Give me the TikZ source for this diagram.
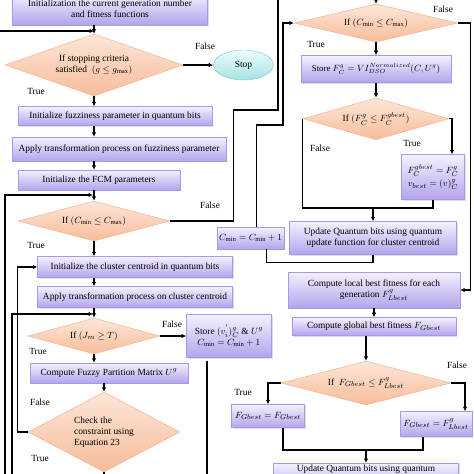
\documentclass[tikz,border=0pt]{standalone}
\usepackage{amsmath,amssymb}
\usepackage{fontspec}
\setmainfont{Liberation Serif}
\usepackage{tikz}
\usetikzlibrary{arrows.meta,positioning,shapes.geometric,shadows}
\definecolor{lav}{HTML}{F4F1FF}
\definecolor{lavdark}{HTML}{B4A3EC}
\definecolor{lavline}{HTML}{A998E8}
\definecolor{peachlt}{HTML}{FDE6D8}
\definecolor{peach}{HTML}{F7BC9A}
\definecolor{peachline}{HTML}{F0AE88}
\definecolor{aqualt}{HTML}{EEFCFC}
\definecolor{aqua}{HTML}{A6E2E2}
\definecolor{aqualine}{HTML}{78CACA}

\begin{document}
\begin{tikzpicture}[x=1pt,y=1pt,
  font=\fontsize{9.4}{11}\selectfont,
  proc/.style={draw=lavline,top color=lav,bottom color=lavdark,align=center,inner sep=2pt,
    drop shadow={shadow xshift=1.2pt,shadow yshift=-1.2pt,opacity=.25}},
  dec/.style={diamond,draw=peachline,top color=peachlt,bottom color=peach,align=center,inner sep=0pt,aspect=3},
  term/.style={ellipse,draw=aqualine,top color=aqualt,bottom color=aqua},
  ln/.style={line width=1.3pt},
  arr/.style={ln,-{Latex[length=4.5pt,width=4.5pt]}},
  lbl/.style={inner sep=0pt}
]
\useasboundingbox (0,0) rectangle (474,-474);
\clip (0,0) rectangle (474,-474);

% left column
\node[proc,minimum width=195,minimum height=32] (init) at (110,-9) {Initialization the current generation number\\and fitness functions};
\node[dec,minimum width=178,minimum height=62,aspect=2.87] (stop1) at (94,-65) {If stopping criteria\\satisfied\ \ $(g\le g_{\max})$};
\node[term,minimum width=60,minimum height=30,right=30pt of stop1] (stop) {Stop};
\node[proc,minimum width=194,minimum height=19] (fuzz) at (115,-116) {Initialize fuzziness parameter in quantum bits};
\node[proc,minimum width=214,minimum height=24] (trans) at (119,-149) {Apply transformation process on fuzziness parameter};
\node[proc,minimum width=162,minimum height=20] (fcm) at (99,-180) {Initialize the FCM parameters};
\node[dec,minimum width=152,minimum height=40,aspect=3.8] (cmin1) at (94,-221) {If $(C_{\min}\le C_{\max})$};
\node[proc,minimum width=195,minimum height=21] (cent) at (135,-267) {Initialize the cluster centroid in quantum bits};
\node[proc,minimum width=195,minimum height=21] (transc) at (135,-297) {Apply transformation process on cluster centroid};
\node[dec,minimum width=132,minimum height=36,aspect=3.67] (jm) at (94,-336) {If $(J_m\ge T)$};
\node[proc,minimum width=85,minimum height=43,right=26pt of jm] (storev) {Store $(v_i^{'})_C^g$ \& $U^g$\\$C_{\min}=C_{\min}+1$};
\node[proc,minimum width=158,minimum height=20] (fuzzy) at (109,-373) {Compute Fuzzy Partition Matrix $U^g$};
\node[dec,minimum width=152,minimum height=80,aspect=1.9,align=left] (check) at (104,-432) {Check the\\constraint using\\Equation 23};

% right column
\node[dec,minimum width=164,minimum height=38,aspect=4.3] (cmin2) at (376,-23) {If $(C_{\min}\le C_{\max})$};
\node[proc,minimum width=150,minimum height=27,below=13pt of cmin2,font=\fontsize{8.8}{10}\selectfont] (storef) {Store $F_C^g=VI_{DSO}^{Normalized}(C,U^g)$};
\node[dec,minimum width=146,minimum height=42,aspect=3.5,below=15pt of storef] (fc) {If $(F_C^g\le F_C^{gbest})$};
\node[proc,minimum width=63,minimum height=45] (fcbest) at (433,-177) {$F_C^{gbest}=F_C^g$\\[2pt]$v_{best}=(v)_C^g$};
\node[proc,minimum width=167,minimum height=33] (upd1) at (373,-238) {Update Quantum bits using quantum\\update function for cluster centroid};
\node[proc,minimum width=67,minimum height=22,left=5pt of upd1] (cminc) {$C_{\min}=C_{\min}+1$};
\node[proc,minimum width=172,minimum height=36] (local) at (374,-290) {Compute local best fitness for each\\generation $F_{Lbest}^g$};
\node[proc,minimum width=164,minimum height=18,below=9pt of local] (global) {Compute global best fitness $F_{Gbest}$};
\node[dec,minimum width=170,minimum height=44,aspect=3.86] (r3) at (366,-383) {If\ \ $F_{Gbest}\le F_{Lbest}^g$};
\node[proc,minimum width=73,minimum height=23] (tbox) at (268,-416) {$F_{Gbest}=F_{Gbest}$};
\node[proc,minimum width=72,minimum height=25] (fbox) at (436,-424) {$F_{Gbest}=F_{Lbest}^g$};
\node[proc,minimum width=185,anchor=north,text depth=18pt] (upd2) at (366,-463) {Update Quantum bits using quantum};

% branch labels
\node[lbl] (f1) at (205,-46) {False};
\node[lbl] (t1) at (36,-91) {True};
\node[lbl] (f2) at (210,-205) {False};
\node[lbl] (t2) at (36,-245) {True};
\node[lbl] (f3) at (172,-324) {False};
\node[lbl] (t3) at (38,-351) {True};
\node[lbl] (f4) at (40,-402) {False};
\node[lbl] (t4) at (40,-458) {True};
\node[lbl] (f5) at (443,-9) {False};
\node[lbl] (t5) at (316,-44) {True};
\node[lbl] (f6) at (320,-148) {False};
\node[lbl] (t6) at (412,-143) {True};
\node[lbl] (t7) at (243,-392) {True};
\node[lbl] (f7) at (457,-365) {False};

% loose ends off the page
\coordinate (j0) at (94,-31);
\coordinate (j1) at (93,-195);
\coordinate (j3) at (93,-314);
\coordinate (back0) at (-6,-490);
\coordinate (back1) at (5,-490);
\coordinate (back3) at (12,-490);
\coordinate (out1) at (104,-490);
\coordinate (out2) at (207,-490);
\coordinate (j4) at (373,-208);
\coordinate (j5) at (366,-450);

% left connectors
\draw[arr] (init.south -| j0) -- (stop1.north);
\draw[arr] (back0) |- (j0);
\draw[arr] (stop1.east) -- (stop.west);
\draw[arr] (stop1.south) -- (stop1.south |- fuzz.north);
\draw[arr] (fuzz.south -| stop1) -- (trans.north -| stop1);
\draw[arr] (trans.south -| stop1) -- (fcm.north -| stop1);
\draw[arr] (fcm.south -| cmin1) -- (cmin1.north);
\draw[arr] (back1) |- (j1);
\draw[arr] (cmin1.south) -- (cmin1.south |- cent.north);
\draw[arr] (cent.south -| cmin1) -- (transc.north -| cmin1);
\draw[arr] (transc.south -| jm) -- (jm.north);
\draw[arr] (back3) |- (j3);
\draw[arr] (jm.east) -- (storev.west);
\draw[arr] (jm.south) -- (jm.south |- fuzzy.north);
\draw[arr] (fuzzy.south -| check) -- (check.north);
\draw[arr] (check.west) -- ++(-10,0) |- (cent.west);
\draw[arr] (check.south) -- (out1);
\draw[ln] (storev.south -| out2) ++(0,-3) -- (out2);
\draw[arr] (cmin1.east) -- ++(63,0) |- (278,-110) -- (278,12) -| (cmin2.north);

% right connectors
\draw[arr] ([xshift=6pt]cminc.north) |- (283,-125) |- (cmin2.west);
\draw[arr] (cmin2.south) -- (storef.north);
\draw[arr] (storef.south) -- (fc.north);
\draw[arr] (fc.east) -| ([xshift=19pt]fcbest.north);
\draw[ln] (fc.west) |- (j4) -| (fcbest.south);
\draw[arr] (j4) -- (upd1.north);
\draw[ln] (upd1.south) -- ++(0,-8) -| ([xshift=16pt]cminc.south);
\draw[arr] (cmin2.east) -- ++(12,0) |- (local.east);
\draw[arr] (local.south) -- (global.north);
\draw[arr] (global.south -| r3) -- (r3.north);
\draw[arr] (r3.west) -| (tbox.north);
\draw[arr] (r3.east) -| ([xshift=29pt]fbox.north);
\draw[ln] ([xshift=15pt]tbox.south) |- (j5) -| ([xshift=-13pt]fbox.south);
\draw[arr] (j5) -- (upd2.north);
\end{tikzpicture}
\end{document}
